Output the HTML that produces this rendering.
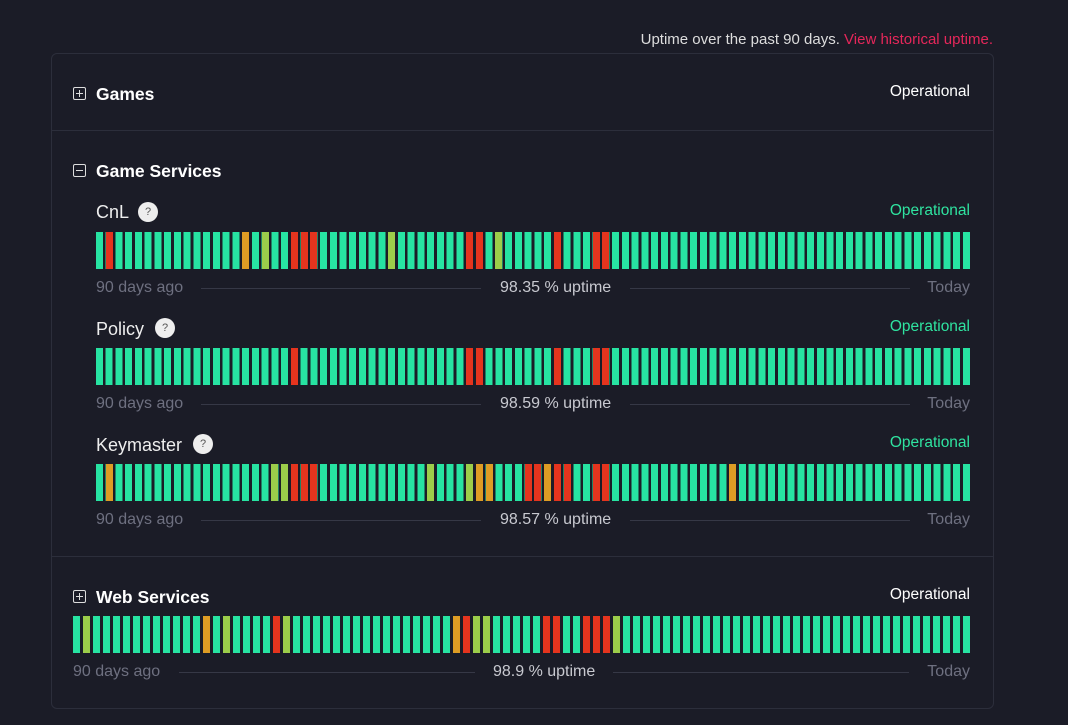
<!DOCTYPE html>
<html><head><meta charset="utf-8"><style>
body{margin:0;width:1068px;height:725px;background:#1b1c27;font-family:"Liberation Sans",sans-serif;color:#fff;position:relative;overflow:hidden}
.t{position:absolute;white-space:nowrap}
.rt{position:absolute;white-space:nowrap;right:98px}
.box{position:absolute;left:51px;top:53px;width:941px;height:654px;border:1px solid #2c2e3b;border-radius:6px}
.hr{position:absolute;left:52px;width:941px;height:1px;background:#2c2e3b}
.h{font-weight:bold;font-size:17.5px}
.ic{position:absolute;width:11px;height:11px;border:1.5px solid #ddd;border-radius:2px}
.ic:before{content:"";position:absolute;left:2px;top:4.7px;width:7px;height:1.5px;background:#ddd}
.ic.p:after{content:"";position:absolute;left:4.7px;top:2px;width:1.5px;height:7px;background:#ddd}
.op{font-size:15.5px;color:#2fe3a0}
.bars{position:absolute;height:37px;background:repeating-linear-gradient(90deg,#27e3a2 0,#27e3a2 7px,transparent 7px,transparent var(--p))}
.bars i{position:absolute;top:0;height:37px;width:7px;left:calc(var(--n)*var(--p))}
.r{background:#e5341e}.o{background:#de9c24}.y{background:#9ccd4a}
.g{font-size:16px;color:#6e7080}
.u{font-size:16px;color:#c8c9d0}
.ln{position:absolute;height:1px;background:#363846}
.q{position:absolute;width:20px;height:20px;border-radius:50%;background:#eee;color:#555;font-size:11px;text-align:center;line-height:20px}
.lb{font-size:18px;color:#eee}
</style></head><body>
<div class="t" style="right:75px;top:31px;font-size:15px;color:#ddd">Uptime over the past 90 days. <span style="color:#e5275a">View historical uptime.</span></div>
<div class="box"></div>
<div class="hr" style="top:130px"></div>
<div class="hr" style="top:556px"></div>

<div class="ic p" style="left:73px;top:87px"></div>
<div class="t h" style="left:96px;top:84px">Games</div>
<div class="rt" style="top:83px;font-size:15.5px;color:#fff">Operational</div>

<div class="ic" style="left:73px;top:164px"></div>
<div class="t h" style="left:96px;top:161px">Game Services</div>

<!-- CnL -->
<div class="t lb" style="left:96px;top:202px">CnL</div><div class="q" style="left:138px;top:202px">?</div>
<div class="rt op" style="top:202px">Operational</div>
<div class="bars" style="left:96px;top:232px;width:874px;--p:9.74px">
<i class="r" style="--n:1"></i><i class="o" style="--n:15"></i><i class="y" style="--n:17"></i><i class="r" style="--n:20"></i><i class="r" style="--n:21"></i><i class="r" style="--n:22"></i><i class="y" style="--n:30"></i><i class="r" style="--n:38"></i><i class="r" style="--n:39"></i><i class="y" style="--n:41"></i><i class="r" style="--n:47"></i><i class="r" style="--n:51"></i><i class="r" style="--n:52"></i>
</div>
<div class="t g" style="left:96px;top:279px">90 days ago</div><div class="ln" style="left:201px;width:280px;top:288px"></div>
<div class="t u" style="left:500px;top:279px">98.35 % uptime</div><div class="ln" style="left:630px;width:280px;top:288px"></div>
<div class="rt g" style="top:279px">Today</div>

<!-- Policy -->
<div class="t lb" style="left:96px;top:319px">Policy</div><div class="q" style="left:155px;top:318px">?</div>
<div class="rt op" style="top:318px">Operational</div>
<div class="bars" style="left:96px;top:348px;width:874px;--p:9.74px">
<i class="r" style="--n:20"></i><i class="r" style="--n:38"></i><i class="r" style="--n:39"></i><i class="r" style="--n:47"></i><i class="r" style="--n:51"></i><i class="r" style="--n:52"></i>
</div>
<div class="t g" style="left:96px;top:395px">90 days ago</div><div class="ln" style="left:201px;width:280px;top:404px"></div>
<div class="t u" style="left:500px;top:395px">98.59 % uptime</div><div class="ln" style="left:630px;width:280px;top:404px"></div>
<div class="rt g" style="top:395px">Today</div>

<!-- Keymaster -->
<div class="t lb" style="left:96px;top:435px">Keymaster</div><div class="q" style="left:193px;top:434px">?</div>
<div class="rt op" style="top:434px">Operational</div>
<div class="bars" style="left:96px;top:464px;width:874px;--p:9.74px">
<i class="o" style="--n:1"></i><i class="y" style="--n:18"></i><i class="y" style="--n:19"></i><i class="r" style="--n:20"></i><i class="r" style="--n:21"></i><i class="r" style="--n:22"></i><i class="y" style="--n:34"></i><i class="y" style="--n:38"></i><i class="o" style="--n:39"></i><i class="o" style="--n:40"></i><i class="r" style="--n:44"></i><i class="r" style="--n:45"></i><i class="o" style="--n:46"></i><i class="r" style="--n:47"></i><i class="r" style="--n:48"></i><i class="r" style="--n:51"></i><i class="r" style="--n:52"></i><i class="o" style="--n:65"></i>
</div>
<div class="t g" style="left:96px;top:511px">90 days ago</div><div class="ln" style="left:201px;width:280px;top:520px"></div>
<div class="t u" style="left:500px;top:511px">98.57 % uptime</div><div class="ln" style="left:630px;width:280px;top:520px"></div>
<div class="rt g" style="top:511px">Today</div>

<!-- Web -->
<div class="ic p" style="left:73px;top:590px"></div>
<div class="t h" style="left:96px;top:587px">Web Services</div>
<div class="rt" style="top:586px;font-size:15.5px;color:#fff">Operational</div>
<div class="bars" style="left:73px;top:616px;width:897px;--p:10px">
<i class="y" style="--n:1"></i><i class="o" style="--n:13"></i><i class="y" style="--n:15"></i><i class="r" style="--n:20"></i><i class="y" style="--n:21"></i><i class="o" style="--n:38"></i><i class="r" style="--n:39"></i><i class="y" style="--n:40"></i><i class="y" style="--n:41"></i><i class="r" style="--n:47"></i><i class="r" style="--n:48"></i><i class="r" style="--n:51"></i><i class="r" style="--n:52"></i><i class="r" style="--n:53"></i><i class="y" style="--n:54"></i>
</div>
<div class="t g" style="left:73px;top:663px">90 days ago</div><div class="ln" style="left:179px;width:296px;top:672px"></div>
<div class="t u" style="left:493px;top:663px">98.9 % uptime</div><div class="ln" style="left:613px;width:296px;top:672px"></div>
<div class="rt g" style="top:663px">Today</div>
</body></html>
